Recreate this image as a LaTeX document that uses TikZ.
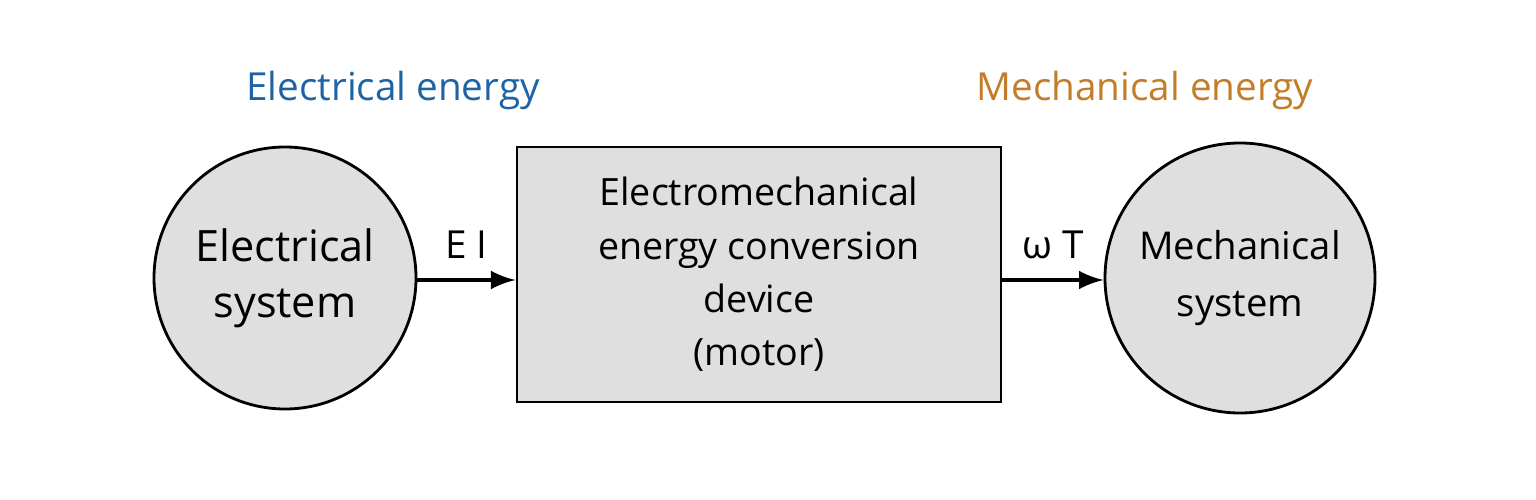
\documentclass[tikz,border=0pt]{standalone}
\usepackage{fontspec}
\setmainfont{Open Sans}
\definecolor{elblue}{RGB}{30,100,165}
\definecolor{mechorange}{RGB}{195,125,40}
\tikzset{
    sys/.style={circle, draw, thick, fill=gray!25, align=center, font=\fontsize{12.3}{16}\selectfont},
    flow/.style={->, >=latex, line width=1.4pt}
}
\begin{document}
\begin{tikzpicture}
    \useasboundingbox (0, 0) rectangle (15.36, 4.99);

    \node[sys, minimum size=2.62cm] (elec) at (2.85, 2.21) {Electrical\\system};
    \node[
        rectangle,
        draw,
        thick,
        fill=gray!25,
        minimum width=4.84cm,
        minimum height=2.55cm,
        align=center,
        font=\fontsize{10.7}{15.2}\selectfont
    ] (dev) at (7.59, 2.245) {Electromechanical\\energy conversion\\device\\(motor)};
    \node[sys, minimum size=2.7cm, font=\fontsize{10.9}{16}\selectfont] (mech) at (12.40, 2.21) {Mechanical\\system};

    \node[text=elblue, font=\fontsize{11}{13}\selectfont] (elabel) at (3.93, 4.09) {Electrical energy};
    \node[text=mechorange, font=\fontsize{11}{13}\selectfont] (mlabel) at (11.45, 4.09) {Mechanical energy};

    \draw[flow] (elec.east |- 0, 2.19) -- (dev.west |- 0, 2.19) node[midway, above=2pt, font=\fontsize{11}{13}\selectfont] {E I};
    \draw[flow] (dev.east |- 0, 2.19) -- (mech.west |- 0, 2.19) node[midway, above=2pt, font=\fontsize{11}{13}\selectfont] {ω T};
\end{tikzpicture}
\end{document}
